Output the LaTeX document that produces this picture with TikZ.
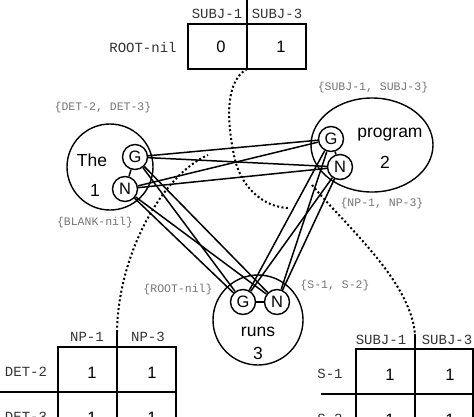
\documentclass[tikz,border=0pt]{standalone}
\usepackage{fontspec}
\setmainfont{Liberation Sans}
\setmonofont{Liberation Mono}
\usetikzlibrary{positioning, shapes.geometric}
\tikzset{
  word/.style={circle, draw, line width=1.4pt, inner sep=0pt},
  wordwide/.style={ellipse, draw, line width=1.4pt, minimum width=122pt, minimum height=94pt, inner sep=0pt},
  port/.style={circle, draw, line width=1.4pt, minimum size=25pt, inner sep=0pt, font=\fontsize{16.5}{16.5}\selectfont},
  wordtext/.style={inner sep=0pt, font=\fontsize{17.5}{17.5}\selectfont},
  setlabel/.style={inner sep=0pt, text=black!55, font=\ttfamily\fontsize{11.5}{12}\selectfont},
  tabtext/.style={inner sep=0pt, text=black!80, font=\ttfamily\fontsize{14}{14}\selectfont},
  cellval/.style={inner sep=0pt, font=\fontsize{16.5}{16.5}\selectfont},
  link/.style={line width=1.5pt},
  tabline/.style={line width=1.9pt},
  attach/.style={line width=2pt, dash pattern=on 2pt off 2.4pt},
}

\begin{document}
\begin{tikzpicture}[x=1pt, y=-1pt]
  \useasboundingbox (0,0) rectangle (474,416);

  % Words
  \node[word, minimum size=86pt] (theword) at (110,167) {};
  \node[wordwide] (progword) at (372,145) {};
  \node[word, minimum size=90pt] (runsword) at (258,320) {};

  \node[wordtext] (thetext) at (92,160) {The};
  \node[wordtext] (theidx) at (95,190) {1};
  \node[wordtext] (progtext) at (390,135) {program};
  \node[wordtext] (progidx) at (385,162) {2};
  \node[wordtext] (runstext) at (258,332) {runs};
  \node[wordtext] (runsidx) at (258,353) {3};

  % Ports
  \node[port] (theG) at (135,157) {G};
  \node[port] (theN) at (125,189) {N};
  \node[port] (progG) at (331,139) {G};
  \node[port] (progN) at (340,167) {N};
  \node[port] (runsG) at (243,302) {G};
  \node[port] (runsN) at (277,302) {N};

  \draw[link] (theG) -- (theN);
  \draw[link] (progG) -- (progN);
  \draw[link] (runsG) -- (runsN);

  % Links between ports
  \foreach \a in {theG, theN}
    \foreach \b in {progG, progN, runsG, runsN}
      \draw[link] (\a) -- (\b);
  \foreach \a in {progG, progN}
    \foreach \b in {runsG, runsN}
      \draw[link] (\a) -- (\b);

  % Label sets
  \node[setlabel] (theset) at (103,108) {\{DET-2, DET-3\}};
  \node[setlabel] (theblank) at (95,223) {\{BLANK-nil\}};
  \node[setlabel] (progset) at (373,88) {\{SUBJ-1, SUBJ-3\}};
  \node[setlabel] (progbelow) at (382,204) {\{NP-1, NP-3\}};
  \node[setlabel] (runsroot) at (178,290) {\{ROOT-nil\}};
  \node[setlabel] (runsset) at (335,286) {\{S-1, S-2\}};

  % Top table
  \draw[tabline] (188,24) rectangle (306,69);
  \draw[tabline] (247,0) -- (247,69);
  \coordinate (roottab) at (247,69);
  \node[tabtext] (rootc1) at (217,14) {SUBJ-1};
  \node[tabtext] (rootc2) at (277,14) {SUBJ-3};
  \node[tabtext] (rootr1) at (143,47) {ROOT-nil};
  \node[cellval] (rootv1) at (221,47) {0};
  \node[cellval] (rootv2) at (281,47) {1};

  % Left table
  \draw[tabline] (58,347) rectangle (176,440);
  \draw[tabline] (117,332) -- (117,440);
  \draw[tabline] (0,392) -- (176,392);
  \coordinate (dettab) at (117,332);
  \node[tabtext] (detc1) at (87,337) {NP-1};
  \node[tabtext] (detc2) at (148,337) {NP-3};
  \node[tabtext] (detr1) at (26,372) {DET-2};
  \node[tabtext] (detr2) at (26,417) {DET-3};
  \node[cellval] (detv1) at (92,373) {1};
  \node[cellval] (detv2) at (152,373) {1};
  \node[cellval] (detv3) at (92,418) {1};
  \node[cellval] (detv4) at (152,418) {1};

  % Right table
  \draw[tabline] (356,349) rectangle (473,440);
  \draw[tabline] (415,334) -- (415,440);
  \draw[tabline] (321,394) -- (473,394);
  \coordinate (stab) at (415,334);
  \node[tabtext] (sc1) at (381,340) {SUBJ-1};
  \node[tabtext] (sc2) at (447,340) {SUBJ-3};
  \node[tabtext] (sr1) at (330,374) {S-1};
  \node[tabtext] (sr2) at (330,419) {S-2};
  \node[cellval] (sv1) at (390,375) {1};
  \node[cellval] (sv2) at (450,375) {1};
  \node[cellval] (sv3) at (390,420) {1};
  \node[cellval] (sv4) at (450,420) {1};

  % Attachments of tables
  \coordinate (rootend) at (288,208);
  \coordinate (sstart) at (312,185);
  \coordinate (detend) at (208,155);
  \draw[attach] (roottab) .. controls (227,80) and (225,115) .. (235,160)
    .. controls (243,190) and (265,207) .. (rootend);
  \draw[attach] (sstart) .. controls (345,225) and (410,280) .. (stab);
  \draw[attach] (dettab) .. controls (118,255) and (162,175) .. (detend);

\end{tikzpicture}
\end{document}
